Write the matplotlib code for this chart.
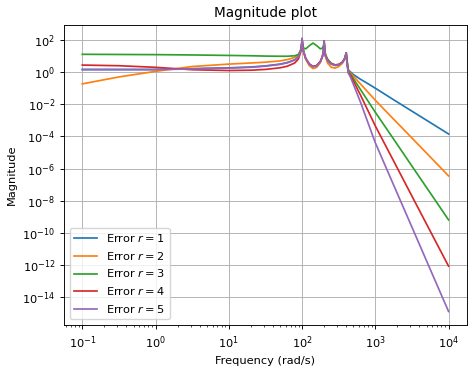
import matplotlib
matplotlib.use("Agg")
import matplotlib.pyplot as plt
import numpy as np

# frequency points (rad/s)
freq = [0.1, 0.316, 1, 3.16, 10, 20, 31.6, 50, 63, 79.4, 89.1, 95.5, 98.9, 100,
        101.2, 104.7, 112.2, 125.9, 141.3, 158.5, 177.8, 190.5, 197.2, 200, 202.8,
        208.9, 223.9, 251.2, 281.8, 316.2, 354.8, 380.2, 393.6, 400, 407.4,
        426.6, 457.1, 501.2, 631, 794.3, 1000, 1778, 3162, 5623, 10000]

# log10 of the error magnitude for each reduced order r
err_r1 = [0.17, 0.17, 0.17, 0.22, 0.27, 0.32, 0.39, 0.5, 0.6, 0.77, 0.97, 1.3, 1.75, 2.09,
          1.75, 1.3, 0.85, 0.5, 0.35, 0.4, 0.65, 1.0, 1.45, 1.94, 1.45,
          1.0, 0.7, 0.5, 0.42, 0.45, 0.6, 0.82, 1.05, 1.2, 0.9,
          0.15, 0.02, -0.15, -0.45, -0.72, -1.0, -1.72, -2.43, -3.14, -3.85]
err_r2 = [-0.73, -0.3, 0.05, 0.35, 0.5, 0.57, 0.62, 0.7, 0.78, 0.92, 1.07, 1.35, 1.75, 2.09,
          1.75, 1.25, 0.8, 0.4, 0.22, 0.3, 0.6, 1.0, 1.45, 1.94, 1.45,
          0.95, 0.55, 0.3, 0.25, 0.35, 0.55, 0.8, 1.05, 1.2, 0.85,
          0.1, -0.05, -0.25, -0.75, -1.25, -1.75, -2.93, -4.1, -5.28, -6.46]
err_r3 = [1.11, 1.1, 1.09, 1.07, 1.04, 1.02, 1.0, 0.99, 0.99, 1.02, 1.1, 1.35, 1.75, 2.09,
          1.85, 1.5, 1.45, 1.65, 1.81, 1.65, 1.45, 1.5, 1.7, 1.94, 1.55,
          1.1, 0.8, 0.55, 0.45, 0.47, 0.62, 0.84, 1.06, 1.2, 0.8,
          0.05, -0.12, -0.4, -1.1, -1.8, -2.5, -4.17, -5.85, -7.52, -9.2]
err_r4 = [0.44, 0.4, 0.3, 0.15, 0.1, 0.12, 0.17, 0.27, 0.37, 0.57, 0.82, 1.22, 1.72, 2.09,
          1.75, 1.3, 0.85, 0.5, 0.35, 0.42, 0.67, 1.02, 1.45, 1.94, 1.45,
          1.02, 0.72, 0.52, 0.45, 0.48, 0.62, 0.84, 1.05, 1.2, 0.75,
          0.0, -0.2, -0.55, -1.45, -2.4, -3.35, -5.53, -7.72, -9.9, -12.08]
err_r5 = [0.15, 0.15, 0.15, 0.2, 0.25, 0.3, 0.37, 0.48, 0.58, 0.75, 0.95, 1.3, 1.75, 2.09,
          1.75, 1.3, 0.85, 0.5, 0.33, 0.38, 0.63, 1.0, 1.45, 1.94, 1.45,
          1.0, 0.7, 0.5, 0.42, 0.45, 0.6, 0.82, 1.05, 1.2, 0.7,
          -0.05, -0.3, -0.75, -1.9, -3.15, -4.4, -7.03, -9.65, -12.28, -14.9]

errors = [err_r1, err_r2, err_r3, err_r4, err_r5]
orders = [1, 2, 3, 4, 5]

# the reference looks like a downscaled default figure, so shrink everything
s = 0.82
plt.rcParams.update({
    "font.size": 10 * s,
    "axes.titlesize": 12 * s,
    "lines.linewidth": 1.5 * s,
    "axes.linewidth": 0.8 * s,
    "grid.linewidth": 0.8 * s,
    "xtick.major.size": 3.5 * s,
    "ytick.major.size": 3.5 * s,
    "xtick.minor.size": 2 * s,
    "ytick.minor.size": 2 * s,
    "xtick.major.width": 0.8 * s,
    "ytick.major.width": 0.8 * s,
    "xtick.minor.width": 0.6 * s,
    "ytick.minor.width": 0.6 * s,
})

fig = plt.figure(figsize=(4.74, 3.72), dpi=100)
ax = fig.add_axes([0.135, 0.126, 0.85, 0.807])

for r, e in zip(orders, errors):
    ax.loglog(freq, np.power(10.0, e), label=f"Error $r = {r}$")

ax.set_title("Magnitude plot")
ax.set_xlabel("Frequency (rad/s)")
ax.set_ylabel("Magnitude")
ax.grid()
ax.legend(loc="lower left")

fig.savefig("out.png", dpi=100)
